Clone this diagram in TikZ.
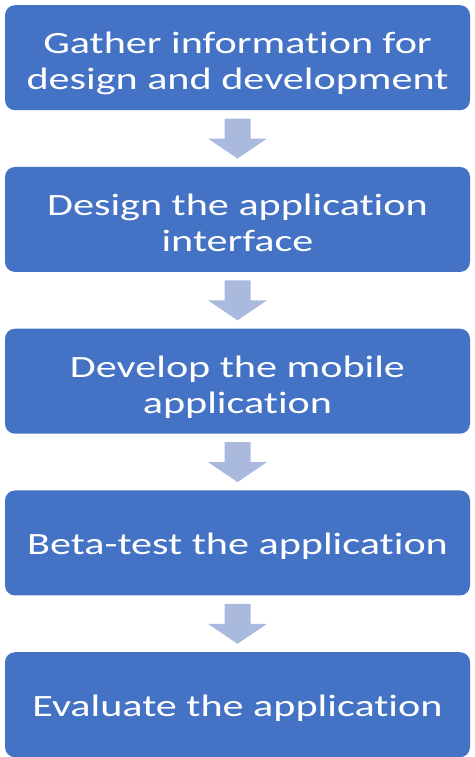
\documentclass[tikz,border=0pt]{standalone}
\usepackage{fontspec}
\setmainfont{Carlito}
\newfontfamily\stretchfont[FakeStretch=1.36,Ligatures={NoCommon,NoContextual}]{Carlito}
\usetikzlibrary{calc}
\definecolor{boxblue}{HTML}{4472C4}
\definecolor{arrowblue}{HTML}{AABADF}
\newcommand\steplabel[2]{\raisebox{#1}[0pt][0pt]{\begin{tabular}{@{}c@{}}#2\end{tabular}}}
\tikzset{
  stepbox/.style={fill=boxblue, draw=none, rounded corners=10pt,
    minimum width=465pt, minimum height=105pt, inner sep=0pt,
    text=white, align=center, font=\stretchfont\fontsize{31}{36}\selectfont, anchor=north},
  blockarrow/.style={fill=arrowblue, draw=none}
}
\begin{document}
\begin{tikzpicture}[x=1pt,y=1pt]
\useasboundingbox (0,0) rectangle (474,-757);
\node[stepbox] (b1) at (237.5,-5) {\steplabel{-13pt}{Gather information for\\design and development}};
\node[stepbox] (b2) at (237.5,-166.75) {\steplabel{-13pt}{Design the application\\interface}};
\node[stepbox] (b3) at (237.5,-328.5) {\steplabel{-13pt}{Develop the mobile\\application}};
\node[stepbox] (b4) at (237.5,-490.25) {\steplabel{-10.5pt}{Beta-test the application}};
\node[stepbox] (b5) at (237.5,-652) {\steplabel{-10.5pt}{Evaluate the application}};
\foreach \a/\b in {b1/b2,b2/b3,b3/b4,b4/b5}{
  \coordinate (s) at ($(\a.south)!0.5!(\b.north)$);
  \fill[blockarrow] ($(s)+(-13,20)$) -- ($(s)+(13,20)$) -- ($(s)+(13,0)$)
    -- ($(s)+(29.5,0)$) -- ($(s)+(0,-20)$) -- ($(s)+(-29.5,0)$)
    -- ($(s)+(-13,0)$) -- cycle;
}
\end{tikzpicture}
\end{document}
